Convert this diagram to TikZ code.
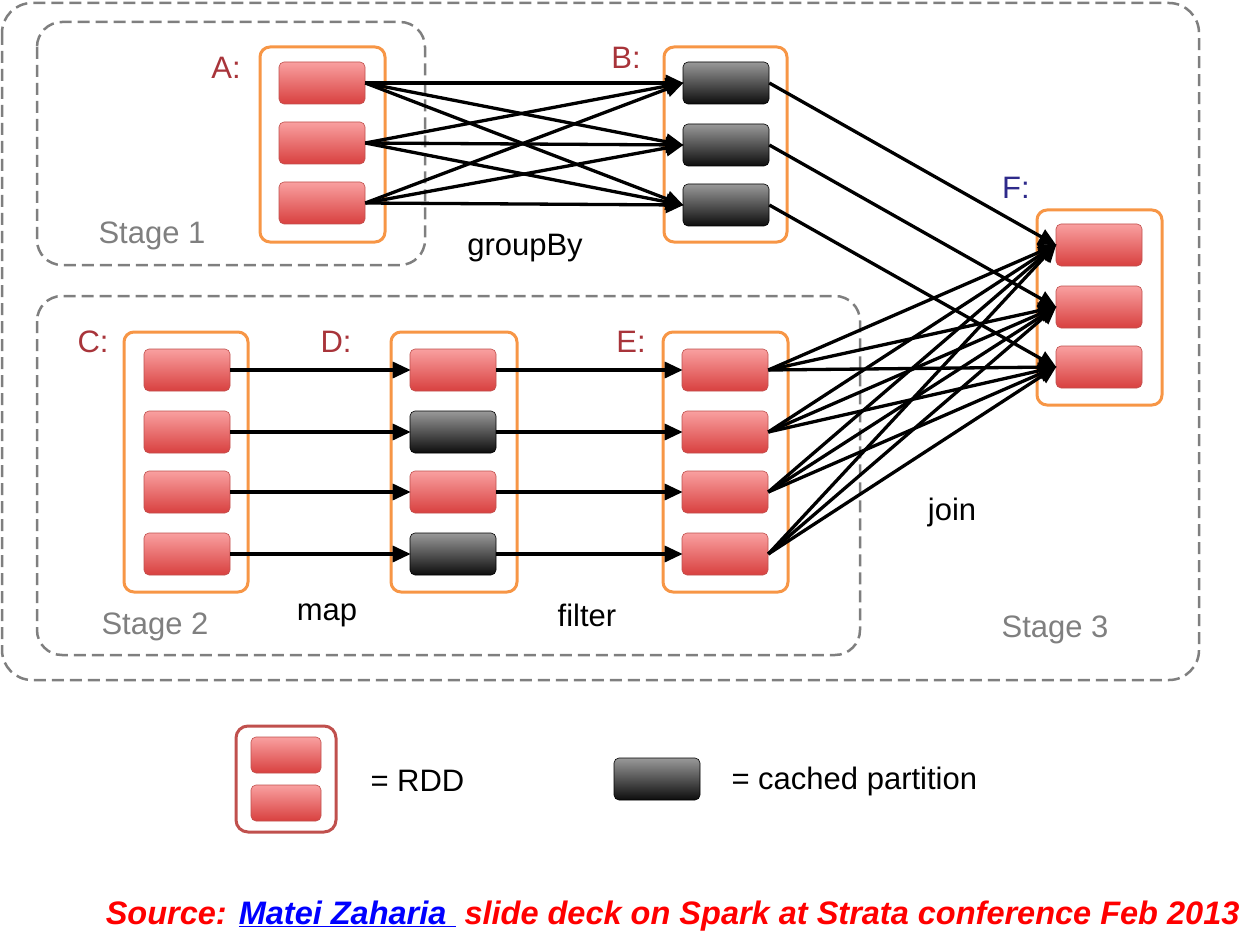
\documentclass[tikz,border=0pt]{standalone}
\usepackage{fontspec}
\setmainfont{Liberation Sans}
\usetikzlibrary{arrows.meta}
\definecolor{orng}{HTML}{F79646}
\definecolor{rtop}{HTML}{F9A0A0}
\definecolor{rbot}{HTML}{D8403F}
\definecolor{rbd}{HTML}{C0504D}
\definecolor{lbl}{HTML}{A8343A}
\definecolor{stg}{HTML}{7F7F7F}
\definecolor{fblue}{HTML}{2E2A8A}
\tikzset{
  stagebox/.style={draw=stg,dashed,dash pattern=on 12pt off 6pt,line width=2.5pt,rounded corners=30pt},
  rddbox/.style={draw=orng,line width=3pt,rounded corners=10pt,fill=white},
  part/.style={draw=rbd,line width=0.6pt,rounded corners=5pt,top color=rtop,bottom color=rbot,minimum width=86pt,minimum height=42pt,inner sep=0pt},
  cpart/.style={draw=black,line width=0.6pt,rounded corners=5pt,top color=black!40,bottom color=black!95,minimum width=86pt,minimum height=42pt,inner sep=0pt},
  arr/.style={line width=3.3pt,-{Triangle[length=18pt,width=16pt]},shorten >=-1pt},
  lab/.style={text=lbl,font=\fontsize{31}{36}\selectfont},
  stl/.style={text=stg,font=\fontsize{31}{36}\selectfont},
  opl/.style={text=black,font=\fontsize{31}{36}\selectfont}
}
\begin{document}
\begin{tikzpicture}[x=1pt,y=-1pt]
\useasboundingbox (0,0) rectangle (1250,944);
% stages
\draw[stagebox] (2,3) rectangle (1199,680);
\draw[stagebox,rounded corners=25pt] (37,22) rectangle (425,265);
\draw[stagebox,rounded corners=25pt] (37,296) rectangle (860,655);
% RDD boxes
\draw[rddbox] (260,47) rectangle (385,242);
\draw[rddbox] (664,47) rectangle (787,242);
\draw[rddbox] (1037,210) rectangle (1162,405);
\draw[rddbox] (124,332) rectangle (248,592);
\draw[rddbox] (391,332) rectangle (517,592);
\draw[rddbox] (663,332) rectangle (788,592);
% partitions
\foreach \i/\y in {1/83,2/143,3/203}{\node[part] (a\i) at (322,\y) {};}
\foreach \i/\y in {1/83,2/145,3/205}{\node[cpart] (b\i) at (726,\y) {};}
\foreach \i/\y in {1/245,2/307,3/367}{\node[part] (f\i) at (1099,\y) {};}
\foreach \i/\y in {1/370,2/432,3/492,4/554}{
  \node[part] (c\i) at (187,\y) {};
  \node[part] (e\i) at (725,\y) {};}
\node[part] (d1) at (453,370) {};
\node[cpart] (d2) at (453,432) {};
\node[part] (d3) at (453,492) {};
\node[cpart] (d4) at (453,554) {};
% arrows
\foreach \i in {1,2,3}{\foreach \j in {1,2,3}{\draw[arr] (a\i.east) -- (b\j.west);}
  \draw[arr] (b\i.east) -- (f\i.west);}
\foreach \i in {1,2,3,4}{\draw[arr] (c\i.east) -- (d\i.west); \draw[arr] (d\i.east) -- (e\i.west);
  \foreach \j in {1,2,3}{\draw[arr] (e\i.east) -- (f\j.west);}}
% labels
\node[lab] (la) at (226,68) {A:};
\node[lab] (lb) at (626,58) {B:};
\node[lab,text=fblue] (lf) at (1016,188) {F:};
\node[lab] (lc) at (93,342) {C:};
\node[lab] (ld) at (336,342) {D:};
\node[lab] (le) at (631,342) {E:};
\node[stl] (s1) at (152,236) {Stage 1};
\node[stl] (s2) at (155,627) {Stage 2};
\node[stl] (s3) at (1055,630) {Stage 3};
\node[opl] (og) at (525,248) {groupBy};
\node[opl] (om) at (327,615) {map};
\node[opl] (of) at (587,615) {filter};
\node[opl] (oj) at (952,512) {join};
% legend
\draw[draw=rbd,line width=3pt,rounded corners=12pt] (236,726) rectangle (336,832);
\node[part,minimum width=70pt,minimum height=36pt] (l1) at (286,755) {};
\node[part,minimum width=70pt,minimum height=36pt] (l2) at (286,803) {};
\node[opl,anchor=west] (lr) at (367,781) {= RDD};
\node[cpart] (lc1) at (657,779) {};
\node[opl,anchor=west] (lcp) at (728,781) {= cached partition};
\node[anchor=east,text=red,font=\fontsize{32.5}{36}\selectfont\bfseries\itshape] (src) at (1243,916) {Source: \textcolor{blue}{\underline{Matei Zaharia\ }} slide deck on Spark at Strata conference Feb 2013};
\end{tikzpicture}
\end{document}
